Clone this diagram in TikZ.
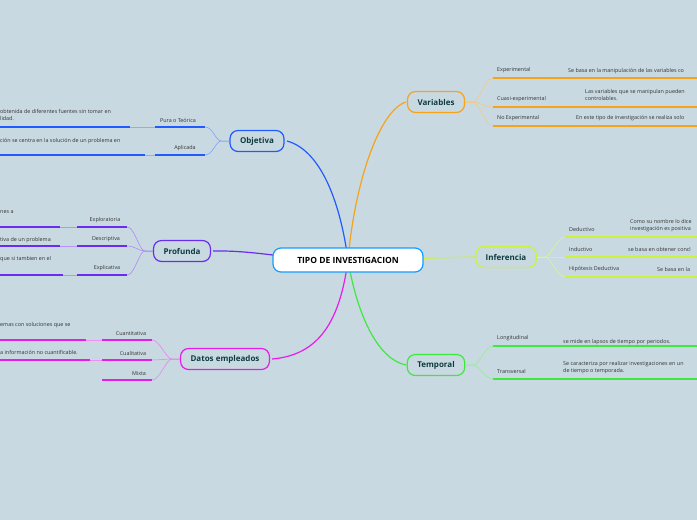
\documentclass[tikz,border=0pt]{standalone}
\usepackage{fontspec}
\setmainfont{Open Sans}
\begin{document}
\begin{tikzpicture}[x=1pt,y=-1pt,
  main/.style={draw=#1,line width=1.2pt,rounded corners=8pt,fill=bg,minimum height=21pt,inner xsep=10pt,font=\fontsize{8}{9}\selectfont\bfseries,text=txt},
  lbl/.style={font=\fontsize{5.4}{7}\selectfont,text=black!80,inner sep=0pt},
  leaf/.style={lbl,anchor=south west,align=left},
  leafr/.style={lbl,anchor=south west,align=left}]
\definecolor{bg}{HTML}{C9D9E1}
\definecolor{txt}{HTML}{0D3B40}
\definecolor{colB}{HTML}{1F5BFF}
\definecolor{colP}{HTML}{6A2CF0}
\definecolor{colM}{HTML}{E51CEB}
\definecolor{colO}{HTML}{F7A21B}
\definecolor{colY}{HTML}{CCF23A}
\definecolor{colG}{HTML}{3FE83F}
\fill[bg] (0,0) rectangle (697,520);
\useasboundingbox (0,0) rectangle (697,520);
\clip (0,0) rectangle (697,520);
\coordinate (c) at (348,260);
\draw[color=colB,line width=1.2pt] (c) .. controls (340,200) and (320,150) .. (287,141);
\draw[color=colP,line width=1.2pt] (c) .. controls (300,262) and (260,250) .. (213,251);
\draw[color=colM,line width=1.2pt] (c) .. controls (340,320) and (320,355) .. (272,359);
\draw[color=colO,line width=1.2pt] (c) .. controls (355,180) and (380,110) .. (406,102);
\draw[color=colY,line width=1.2pt] (c) -- (476,257);
\draw[color=colG,line width=1.2pt] (c) .. controls (358,320) and (380,360) .. (406,365);
\node[draw=colB!60!cyan,line width=1.2pt,rounded corners=8pt,fill=white,minimum width=150pt,minimum height=24pt,font=\fontsize{8.5}{10}\selectfont\bfseries] (root) at (348,260) {TIPO DE INVESTIGACION};
\node[main=colB] (obj) at (257,141) {Objetiva};
\node[main=colP] (pro) at (182,251) {Profunda};
\node[main=colM] (dat) at (225,359) {Datos empleados};
\node[main=colO] (var) at (436,102) {Variables};
\node[main=colY] (inf) at (506,257) {Inferencia};
\node[main=colG] (tem) at (436,365) {Temporal};
\foreach \n/\c/\xb/\yy/\t/\lx in {obj/colB/205/127/Pura o Teórica/178, obj/colB/205/155/Aplicada/185,
  pro/colP/127/227/Exploratoria/105, pro/colP/127/246/Descriptiva/106, pro/colP/127/275/Explicativa/107,
  dat/colM/152/340/Cuantitativa/131, dat/colM/152/360/Cualitativa/133, dat/colM/152/380/Mixta/139}{
  \coordinate (s) at (\xb,\yy);
  \draw[color=\c!60,line width=0.5pt] (\n.west) -- ++(-8,0) .. controls +(-6,0) and +(8,0) .. (s);
  \draw[color=\c,line width=1.3pt] (s) -- ++(-50,0);
  \node[lbl,anchor=south] (l) at (\lx,\yy-4) {\t};
}
\draw[color=colB!50,line width=0.5pt] (155,127) -- (0,127);
\draw[color=colB!50,line width=0.5pt] (155,155) -- (0,155);
\draw[color=colB,line width=1.3pt] (130,127) -- (0,127);
\draw[color=colB,line width=1.3pt] (145,155) -- (0,155);
\draw[color=colP!50,line width=0.5pt] (77,227) -- (0,227);
\draw[color=colP!50,line width=0.5pt] (77,246) -- (0,246);
\draw[color=colP!50,line width=0.5pt] (77,275) -- (0,275);
\draw[color=colP,line width=1.3pt] (60,227) -- (0,227);
\draw[color=colP,line width=1.3pt] (60,246) -- (0,246);
\draw[color=colP,line width=1.3pt] (63,275) -- (0,275);
\draw[color=colM!50,line width=0.5pt] (102,340) -- (0,340);
\draw[color=colM!50,line width=0.5pt] (102,360) -- (0,360);
\draw[color=colM,line width=1.3pt] (86,340) -- (0,340);
\draw[color=colM,line width=1.3pt] (90,360) -- (0,360);
\node[leaf] at (0,121) {obtenida de diferentes fuentes sin tomar en\\lidad.};
\node[leaf] at (0,144) {ción se centra en la solución de un problema en};
\node[leaf] at (0,214) {nes a};
\node[leaf] at (0,243) {tiva de un problema};
\node[leaf] at (0,262) {que si tambien en el};
\node[leaf] at (0,328) {emas con soluciones que se};
\node[leaf] at (0,355) {a información no cuantificable.};
\foreach \n/\c/\xb/\yy/\t in {var/colO/493/78/Experimental, var/colO/493/107/Cuasi-experimental, var/colO/493/126/No Experimental,
  inf/colY/565/237/Deductivo, inf/colY/565/257/Inductivo, inf/colY/565/277/Hipótesis Deductiva,
  tem/colG/493/346/Longitudinal, tem/colG/493/379/Transversal}{
  \coordinate (s) at (\xb,\yy);
  \draw[color=\c!60,line width=0.5pt] (\n.east) -- ++(8,0) .. controls +(6,0) and +(-8,0) .. (s);
  \draw[color=\c,line width=1.3pt] (s) -- (697,\yy);
  \node[lbl,anchor=south west] at (\xb+4,\yy-5) {\t};
}
\node[leafr] at (568,74) {Se basa en la manipulación de las variables co};
\node[leafr] at (585,101) {Las variables que se manipulan pueden\\controlables.};
\node[leafr] at (576,121) {En este tipo de investigación se realiza solo};
\node[leafr] at (630,232) {Como su nombre lo dice\\investigación es positiva};
\node[leafr] at (628,252) {se basa en obtener concl};
\node[leafr] at (657,272) {Se basa en la};
\node[leafr] at (563,345) {se mide en lapsos de tiempo por periodos.};
\node[leafr] at (563,374) {Se caracteriza por realizar investigaciones en un\\de tiempo o temporada.};
\end{tikzpicture}
\end{document}
